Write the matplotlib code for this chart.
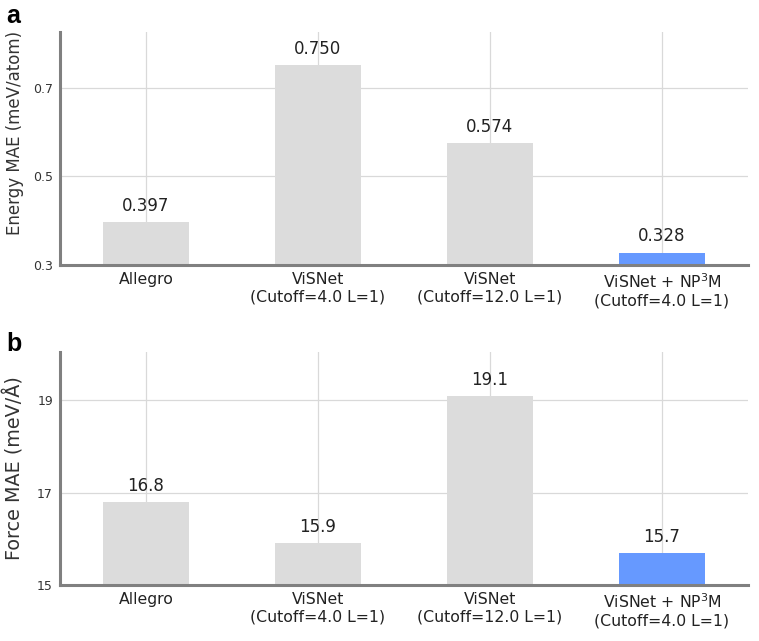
import matplotlib
matplotlib.use("Agg")
import matplotlib.pyplot as plt

categories = ["Allegro", "ViSNet\n(Cutoff=4.0 L=1)", "ViSNet\n(Cutoff=12.0 L=1)",
              "ViSNet + NP$^3$M\n(Cutoff=4.0 L=1)"]
energy_mae = [0.397, 0.750, 0.574, 0.328]
force_mae = [16.8, 15.9, 19.1, 15.7]
energy_labels = ["0.397", "0.750", "0.574", "0.328"]
force_labels = ["16.8", "15.9", "19.1", "15.7"]
energy_ticks = [0.3, 0.5, 0.7]
force_ticks = [15, 17, 19]

grey = "#dcdcdc"
blue = "#6699ff"
colors = [grey, grey, grey, blue]

fig = plt.figure(figsize=(7.59, 6.41), dpi=100)
ax1 = fig.add_axes([0.079, 0.5866, 0.9065, 0.3634])
ax2 = fig.add_axes([0.079, 0.0874, 0.9065, 0.3636])

def style(ax, vals, labels, ticks, ylim, ylabel, off, ylsize, ylpos):
    x = list(range(len(vals)))
    ax.set_axisbelow(True)
    ax.bar(x, vals, width=0.5, color=colors, zorder=2)
    ax.set_xlim(-0.5, len(vals) - 0.5)
    ax.set_ylim(*ylim)
    ax.set_yticks(ticks)
    ax.set_yticklabels([str(t) for t in ticks], fontsize=9, color="#333333")
    ax.set_xticks(x)
    ax.set_xticklabels(categories, fontsize=11.3, color="#222222")
    ax.grid(True, color="#d9d9d9", linewidth=0.9, zorder=0)
    ax.tick_params(length=0, pad=5)
    for s in ["top", "right"]:
        ax.spines[s].set_visible(False)
    for s in ["left", "bottom"]:
        ax.spines[s].set_color("#808080")
        ax.spines[s].set_linewidth(2.2)
    ax.set_ylabel(ylabel, fontsize=ylsize, color="#333333")
    ax.yaxis.set_label_coords(-0.052, ylpos)
    for xi, v, lab in zip(x, vals, labels):
        ax.text(xi, v + off, lab, ha="center", va="baseline", fontsize=12,
                color="#222222", zorder=3)

style(ax1, energy_mae, energy_labels, energy_ticks, (0.3, 0.825),
      "Energy MAE (meV/atom)", 0.025, 12, 0.569)
style(ax2, force_mae, force_labels, force_ticks, (15, 20.05),
      "Force MAE (meV/Å)", 0.24, 13.8, 0.5)

fig.text(0.008, 0.975, "a", fontsize=18, fontweight="bold",
         family="Liberation Sans", va="center", ha="left")
fig.text(0.008, 0.463, "b", fontsize=18, fontweight="bold",
         family="Liberation Sans", va="center", ha="left")

fig.savefig("out.png", dpi=100)
